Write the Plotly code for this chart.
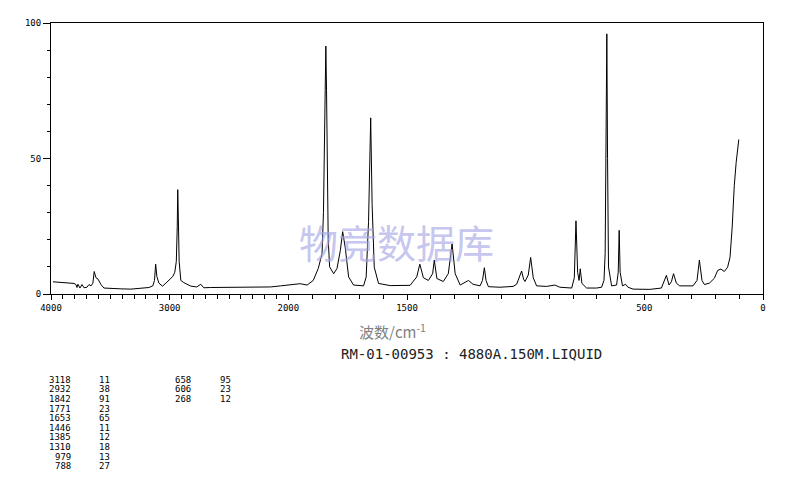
import numpy as np
import plotly.graph_objects as go

# ---- spectrum data (wavenumber cm-1, relative intensity) ----
wavenumber = [3983, 3899, 3806, 3790, 3781, 3773, 3756, 3739, 3722, 3697, 3680, 3663, 3647,
              3636, 3621, 3604, 3579, 3554, 3495, 3411, 3327, 3243, 3175, 3142, 3128, 3118,
              3108, 3091, 3060, 3032, 3007, 2973, 2957, 2944, 2936, 2932, 2927, 2920, 2906,
              2881, 2822, 2772, 2738, 2713, 2654, 2485, 2317, 2149, 2065, 2000,
              1963, 1950, 1921, 1895, 1874, 1858, 1852, 1848, 1845, 1842, 1839, 1836, 1832,
              1826, 1809, 1795, 1781, 1771, 1760, 1746, 1725, 1683, 1672, 1662, 1653, 1647,
              1638, 1620, 1571, 1487, 1459, 1446, 1431, 1410, 1392, 1385, 1374, 1347, 1326,
              1310, 1297, 1276, 1260, 1241, 1222, 1192, 1182, 1174, 1167, 1157, 1108, 1053,
              1038, 1028, 1017, 1009, 1003, 989, 979, 968, 954, 912, 877, 856, 806, 795, 788,
              781, 775, 770, 763, 743, 701, 680, 670, 665, 661, 658, 655, 651, 638, 617, 610,
              606, 602, 592, 579, 569, 547, 477, 428, 414, 407, 396, 386, 377, 365, 351, 295,
              278, 268, 257, 247, 226, 205, 191, 177, 163, 149, 139, 130, 121, 113, 102]
intensity = [4.5, 4.2, 3.9, 3.5, 2.4, 3.6, 2.2, 3.5, 2.3, 2.5, 3.5, 3.0, 4.0,
             8.3, 6.0, 5.5, 3.5, 2.2, 2.0, 1.9, 1.8, 2.0, 2.4, 3.0, 5.0, 11.0,
             6.5, 4.0, 2.9, 4.0, 5.0, 6.5, 8.0, 12.0, 25.0, 38.5, 28.0, 12.0, 5.0,
             4.2, 2.9, 2.6, 3.6, 2.3, 2.4, 2.4, 2.5, 2.6, 3.0, 3.3,
             3.5, 3.8, 3.3, 5.0, 9.4, 14.8, 30.0, 55.0, 80.0, 91.5, 75.0, 45.0, 20.0,
             10.0, 7.5, 9.4, 16.0, 23.0, 17.0, 6.3, 3.3, 3.0, 6.3, 26.8, 65.0, 33.0,
             9.9, 3.9, 3.1, 3.2, 6.3, 11.0, 6.0, 5.0, 7.5, 12.5, 5.7, 4.6, 7.5,
             18.5, 7.5, 3.3, 4.0, 5.0, 3.6, 3.0, 5.0, 9.7, 5.0, 2.7, 2.5, 2.8,
             3.6, 6.0, 8.5, 5.5, 4.6, 7.0, 13.5, 6.0, 3.0, 2.8, 3.3, 2.5, 2.2, 6.0, 27.0,
             8.0, 5.0, 9.3, 3.9, 2.2, 2.2, 2.5, 5.0, 15.0, 60.0, 96.0, 50.0, 10.0, 3.0, 3.3, 8.0,
             23.5, 8.0, 3.0, 3.6, 2.5, 1.8, 1.7, 2.2, 5.3, 6.9, 3.3, 4.5, 7.5, 4.0, 3.0, 3.0,
             5.0, 12.5, 5.0, 3.5, 4.0, 5.8, 8.7, 9.2, 8.3, 9.9, 13.5, 24.4, 40.0, 48.6, 57.0]

# ---- peak table ----
peak_col1_wn = ["3118", "2932", "1842", "1771", "1653", "1446", "1385", "1310", "979", "788"]
peak_col1_int = ["11", "38", "91", "23", "65", "11", "12", "18", "13", "27"]
peak_col2_wn = ["658", "606", "268"]
peak_col2_int = ["95", "23", "12"]

# ---- axis ticks ----
xtick_wn = [4000, 3000, 2000, 1500, 500, 0]
xtick_text = ["4000", "3000", "2000", "1500", "500", "0"]
ytick_vals = [0, 50, 100]

title_text = "RM-01-00953 : 4880A.150M.LIQUID"
axis_title = "波数/cm<sup>-1</sup>"
watermark = "物竞数据库"


def to_u(wn):
    """Split-scale Raman axis: 4000-2000 compressed by half, 2000-0 full."""
    wn = np.asarray(wn, dtype=float)
    return np.where(wn >= 2000, (4000 - wn) / 2.0, 1000 + (2000 - wn))


x_minor_wn = [w for w in range(3900, 0, -100) if w not in xtick_wn]

fig = go.Figure()
fig.add_trace(go.Scatter(x=to_u(wavenumber), y=intensity, mode="lines",
                         line=dict(color="black", width=1), hoverinfo="skip",
                         showlegend=False))

OFF = 8  # page body margin
W, H = 794 - OFF, 482 - OFF
L, T = 51 - OFF, 18 - OFF
R = 794 - 763
B = 482 - 294
pw, ph = W - L - R, H - T - B


def px(x):  # page pixel -> paper x
    return (x - OFF - L) / pw


def py(y):  # page pixel -> paper y
    return (H - B - (y - OFF)) / ph


mono = "DejaVu Sans Mono"
fig.update_layout(
    width=W, height=H,
    margin=dict(l=L, r=R, t=T, b=B),
    paper_bgcolor="white", plot_bgcolor="white",
    xaxis=dict(range=[0, 3000], tickmode="array", tickvals=to_u(xtick_wn).tolist(),
               ticktext=xtick_text, ticks="outside", ticklen=5, tickwidth=1,
               tickcolor="black", showline=True, linecolor="black", linewidth=1,
               mirror=True, showgrid=False, zeroline=False,
               tickfont=dict(family=mono, size=9, color="black"),
               minor=dict(tickmode="array", tickvals=to_u(x_minor_wn).tolist(),
                          ticks="outside", ticklen=4, tickcolor="black", showgrid=False)),
    yaxis=dict(range=[0, 100], tickmode="array", tickvals=ytick_vals,
               ticks="outside", ticklen=7, tickwidth=1, tickcolor="black",
               showline=True, linecolor="black", linewidth=1, mirror=True,
               showgrid=False, zeroline=False,
               tickfont=dict(family=mono, size=9, color="black"),
               minor=dict(tickmode="array", tickvals=list(range(10, 100, 10)),
                          ticks="outside", ticklen=3, tickcolor="black", showgrid=False)),
)

ann = []
ann.append(dict(text=watermark, x=px(396), y=py(240), xref="paper", yref="paper",
                showarrow=False, xanchor="center", yanchor="middle",
                font=dict(family="Noto Sans CJK SC", size=39, color="rgba(165,165,228,0.65)")))
ann.append(dict(text=axis_title, x=px(392), y=py(332), xref="paper", yref="paper",
                showarrow=False, xanchor="center", yanchor="middle",
                font=dict(family="Noto Sans CJK SC", size=15, color="#808080")))
ann.append(dict(text=title_text, x=px(471), y=py(355), xref="paper", yref="paper",
                showarrow=False, xanchor="center", yanchor="middle",
                font=dict(family=mono, size=14, color="#222222")))

row0, dy = 381.5, 9.75
for i, (a, b) in enumerate(zip(peak_col1_wn, peak_col1_int)):
    ann.append(dict(text=a, x=px(73), y=py(row0 + i * dy), xref="paper", yref="paper",
                    showarrow=False, xanchor="right", yanchor="middle",
                    font=dict(family=mono, size=9, color="black")))
    ann.append(dict(text=b, x=px(112), y=py(row0 + i * dy), xref="paper", yref="paper",
                    showarrow=False, xanchor="right", yanchor="middle",
                    font=dict(family=mono, size=9, color="black")))
for i, (a, b) in enumerate(zip(peak_col2_wn, peak_col2_int)):
    ann.append(dict(text=a, x=px(193), y=py(row0 + i * dy), xref="paper", yref="paper",
                    showarrow=False, xanchor="right", yanchor="middle",
                    font=dict(family=mono, size=9, color="black")))
    ann.append(dict(text=b, x=px(233), y=py(row0 + i * dy), xref="paper", yref="paper",
                    showarrow=False, xanchor="right", yanchor="middle",
                    font=dict(family=mono, size=9, color="black")))

fig.update_layout(annotations=ann)
fig.write_html("out.html")
